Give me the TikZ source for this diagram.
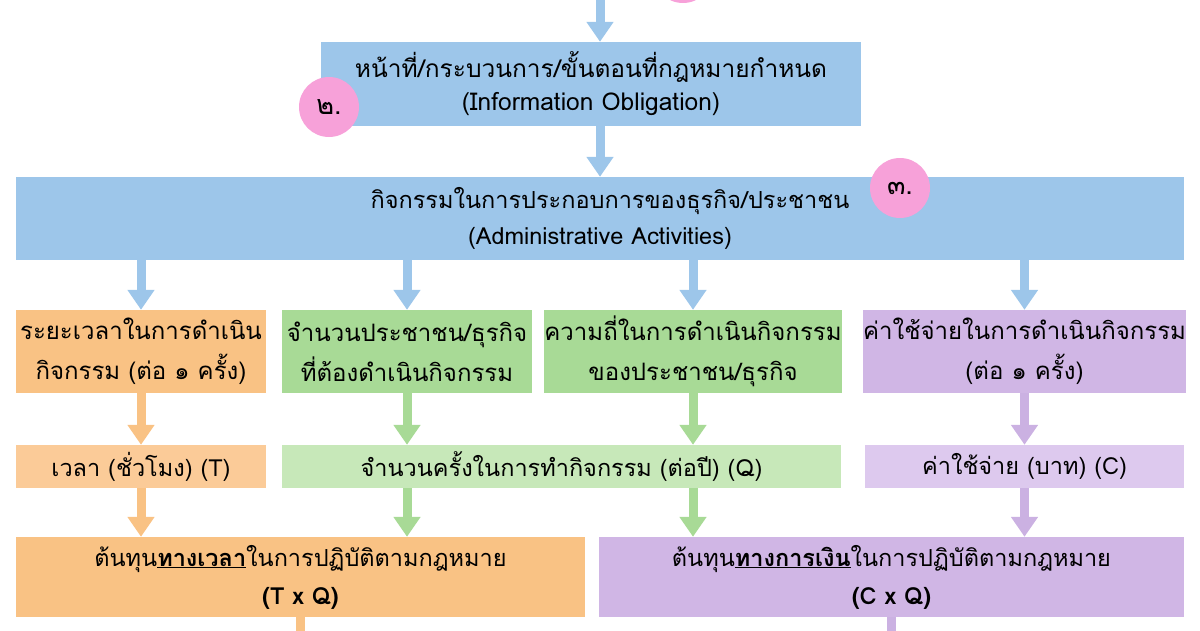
\documentclass[tikz,border=0pt]{standalone}
\usepackage{fontspec}
\setmainfont{Loma}[Script=Thai]
\usetikzlibrary{arrows.meta}
\definecolor{boxblue}{HTML}{9DC6EA}
\definecolor{boxorange}{HTML}{F9C284}
\definecolor{lightorange}{HTML}{FBCB98}
\definecolor{boxgreen}{HTML}{A8DA96}
\definecolor{lightgreen}{HTML}{C7E8B9}
\definecolor{boxpurple}{HTML}{D0B6E5}
\definecolor{lightpurple}{HTML}{DDC9EE}
\definecolor{arrowpurple}{HTML}{CBB1E2}
\definecolor{badgepink}{HTML}{F7A1D9}
\tikzset{
	box/.style={inner sep=0pt, align=center, text=black},
	badge/.style={circle, fill=badgepink, minimum size=60pt, inner sep=0pt, font=\fontsize{27}{30}\selectfont},
	flow/.style={line width=9pt, -{Triangle[width=26pt,length=20pt]}},
	tail/.style={line width=9pt},
}

\begin{document}
\begin{tikzpicture}[x=1pt,y=-1pt]
			%%%%% START %%%%%
			\useasboundingbox (0,0) rectangle (1200,630);
			\clip (0,0) rectangle (1200,630);
			
			\node[box, fill=boxblue, minimum width=540pt, minimum height=84pt, font=\fontsize{24.5}{33}\selectfont] (io) at (591, 84) {หน้าที่/กระบวนการ/ขั้นตอนที่กฎหมายกำหนด\\(Information Obligation)};
			\node[box, fill=boxblue, minimum width=1168pt, minimum height=83pt, font=\fontsize{23.5}{36}\selectfont] (aa) at (600, 218.5) {\hspace*{20pt}กิจกรรมในการประกอบการของธุรกิจ/ประชาชน\\(Administrative Activities)};
			
			\node[box, fill=boxorange, minimum width=250pt, minimum height=83pt, font=\fontsize{24}{40}\selectfont] (t1) at (141, 351.5) {ระยะเวลาในการดำเนิน\\กิจกรรม (ต่อ ๑ ครั้ง)};
			\node[box, fill=boxgreen, minimum width=250pt, minimum height=83pt, font=\fontsize{24}{40}\selectfont] (n1) at (407, 351.5) {จำนวนประชาชน/ธุรกิจ\\ที่ต้องดำเนินกิจกรรม};
			\node[box, fill=boxgreen, minimum width=296pt, minimum height=83pt, font=\fontsize{24}{40}\selectfont] (f1) at (693, 351.5) {ความถี่ในการดำเนินกิจกรรม\\ของประชาชน/ธุรกิจ};
			\node[box, fill=boxpurple, minimum width=319pt, minimum height=83pt, font=\fontsize{24}{40}\selectfont] (c1) at (1024.5, 351.5) {ค่าใช้จ่ายในการดำเนินกิจกรรม\\(ต่อ ๑ ครั้ง)};
			
			\node[box, fill=lightorange, minimum width=250pt, minimum height=43pt, font=\fontsize{23.5}{26}\selectfont] (t2) at (141, 466.5) {เวลา (ชั่วโมง) (T)};
			\node[box, fill=lightgreen, minimum width=559pt, minimum height=43pt, font=\fontsize{23.5}{26}\selectfont] (q) at (561.5, 466.5) {จำนวนครั้งในการทำกิจกรรม (ต่อปี) (Q)};
			\node[box, fill=lightpurple, minimum width=319pt, minimum height=43pt, font=\fontsize{23.5}{26}\selectfont] (c2) at (1024.5, 466.5) {ค่าใช้จ่าย (บาท) (C)};
			
			\node[box, fill=boxorange, minimum width=569pt, minimum height=80pt, font=\fontsize{23.5}{38}\selectfont] (tq) at (300.5, 577) {ต้นทุน\underline{\textbf{ทางเวลา}}ในการปฏิบัติตามกฎหมาย\\\textbf{(T x Q)}};
			\node[box, fill=boxpurple, minimum width=585pt, minimum height=80pt, font=\fontsize{23.5}{38}\selectfont] (cq) at (891.5, 577) {ต้นทุน\underline{\textbf{ทางการเงิน}}ในการปฏิบัติตามกฎหมาย\\\textbf{(C x Q)}};
			
			\node[badge] (one) at (683, -27) {};
			\node[badge] (two) at (329, 107) {๒.};
			\node[badge] (three) at (900, 188) {๓.};
			
			\coordinate (top) at (600, -10);
			\coordinate (tend) at (300.5, 645);
			\coordinate (cend) at (891.5, 645);
			
			\draw[flow, boxblue] (top) -- (top |- io.north);
			\draw[flow, boxblue] (io.south -| aa) -- (aa.north);
			\draw[flow, boxblue] (aa.south -| t1) -- (t1.north);
			\draw[flow, boxblue] (aa.south -| n1) -- (n1.north);
			\draw[flow, boxblue] (aa.south -| f1) -- (f1.north);
			\draw[flow, boxblue] (aa.south -| c1) -- (c1.north);
			
			\draw[flow, boxorange] (t1.south) -- (t2.north);
			\draw[flow, boxgreen] (n1.south) -- (q.north -| n1);
			\draw[flow, boxgreen] (f1.south) -- (q.north -| f1);
			\draw[flow, arrowpurple] (c1.south) -- (c2.north);
			
			\draw[flow, boxorange] (t2.south) -- (tq.north -| t2);
			\draw[flow, boxgreen] (q.south -| n1) -- (tq.north -| n1);
			\draw[flow, boxgreen] (q.south -| f1) -- (cq.north -| f1);
			\draw[flow, arrowpurple] (c2.south) -- (cq.north -| c2);
			
			\draw[tail, boxorange] (tq.south) -- (tend);
			\draw[tail, arrowpurple] (cq.south) -- (cend);
			
			%%%%% END %%%%%
		\end{tikzpicture}
\end{document}
